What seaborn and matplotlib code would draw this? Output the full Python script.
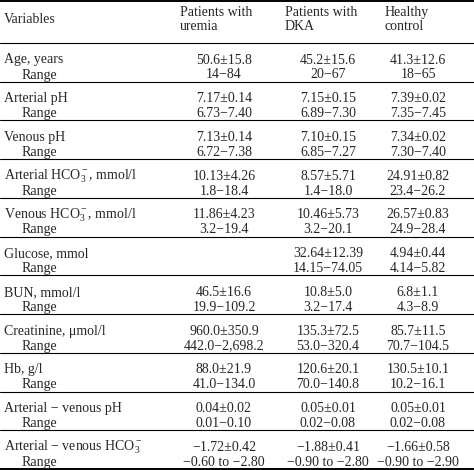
import matplotlib
matplotlib.use('Agg')
import matplotlib.pyplot as plt
from matplotlib import font_manager
import seaborn as sns

sns.set_theme(style='white')
# pick an installed Times-like serif face
serif_names = {f.name for f in font_manager.fontManager.ttflist}
serif = next((n for n in ['Liberation Serif', 'Times New Roman', 'Nimbus Roman', 'DejaVu Serif']
              if n in serif_names), 'DejaVu Serif')
plt.rcParams['font.family'] = [serif, 'DejaVu Serif']
plt.rcParams['mathtext.fontset'] = 'custom'
plt.rcParams['mathtext.rm'] = serif
plt.rcParams['mathtext.it'] = serif + ':italic'

headers = ['Variables', 'Patients with\nuremia', 'Patients with\nDKA', 'Healthy\ncontrol']
variables = ['Age, years', 'Arterial pH', 'Venous pH',
             r'Arterial HCO$_3^-$, mmol/l', r'Venous HCO$_3^-$, mmol/l',
             'Glucose, mmol', 'BUN, mmol/l', 'Creatinine, μmol/l', 'Hb, g/l',
             'Arterial − venous pH', r'Arterial − venous HCO$_3^-$']
uremia_mean = ['50.6±15.8', '7.17±0.14', '7.13±0.14', '10.13±4.26', '11.86±4.23', '',
               '46.5±16.6', '960.0±350.9', '88.0±21.9', '0.04±0.02', '−1.72±0.42']
uremia_range = ['14−84', '6.73−7.40', '6.72−7.38', '1.8−18.4', '3.2−19.4', '',
                '19.9−109.2', '442.0−2,698.2', '41.0−134.0', '0.01−0.10', '−0.60 to −2.80']
dka_mean = ['45.2±15.6', '7.15±0.15', '7.10±0.15', '8.57±5.71', '10.46±5.73', '32.64±12.39',
            '10.8±5.0', '135.3±72.5', '120.6±20.1', '0.05±0.01', '−1.88±0.41']
dka_range = ['20−67', '6.89−7.30', '6.85−7.27', '1.4−18.0', '3.2−20.1', '14.15−74.05',
             '3.2−17.4', '53.0−320.4', '70.0−140.8', '0.02−0.08', '−0.90 to −2.80']
healthy_mean = ['41.3±12.6', '7.39±0.02', '7.34±0.02', '24.91±0.82', '26.57±0.83', '4.94±0.44',
                '6.8±1.1', '85.7±11.5', '130.5±10.1', '0.05±0.01', '−1.66±0.58']
healthy_range = ['18−65', '7.35−7.45', '7.30−7.40', '23.4−26.2', '24.9−28.4', '4.14−5.82',
                 '4.3−8.9', '70.7−104.5', '10.2−16.1', '0.02−0.08', '−0.90 to −2.90']

W, H = 474, 470
fig = plt.figure(figsize=(W / 100, H / 100), dpi=100)
ax = fig.add_axes([0, 0, 1, 1])
ax.set_xlim(0, W)
ax.set_ylim(H, 0)
ax.axis('off')

fs = 10
head_x = [4, 180, 285, 385]
centers = [224, 328, 418]
for x, h in zip(head_x, headers):
    ax.text(x, 6 if '\n' in h else 13, h, fontsize=fs, va='top', ha='left', linespacing=1.15)

top, hline = 1, 43
gh = (H - 1 - hline) / len(variables)
ax.axhline(top, color='black', lw=1.4)
ax.axhline(hline, color='black', lw=0.8)
cols = [(uremia_mean, uremia_range), (dka_mean, dka_range), (healthy_mean, healthy_range)]
for i, v in enumerate(variables):
    y0 = hline + i * gh
    ax.text(4, y0 + 17, v, fontsize=fs, va='center', ha='left')
    ax.text(22, y0 + 32, 'Range', fontsize=fs, va='center', ha='left')
    for c, (m, r) in zip(centers, cols):
        ax.text(c, y0 + 17, m[i], fontsize=fs, va='center', ha='center')
        ax.text(c, y0 + 32, r[i], fontsize=fs, va='center', ha='center')
    lw = 1.4 if i == len(variables) - 1 else 0.8
    ax.axhline(y0 + gh, color='black', lw=lw)

fig.savefig('out.png', dpi=100)
